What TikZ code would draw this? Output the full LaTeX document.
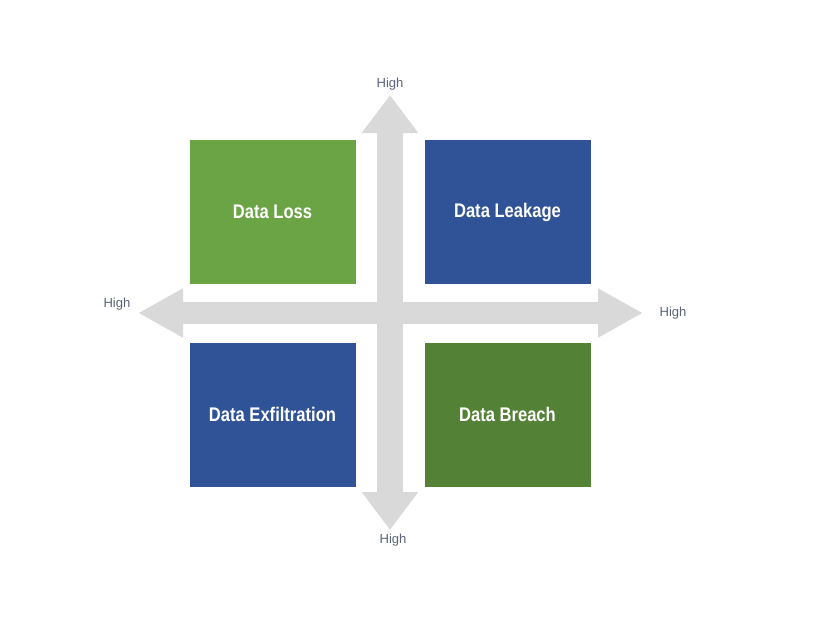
\documentclass[tikz,border=0pt]{standalone}
\usepackage{fontspec}
\setmainfont{Liberation Sans}
\newfontfamily\quadfont[FakeStretch=0.84]{Liberation Sans}
\usepackage{tikz}
\usetikzlibrary{arrows.meta}
\definecolor{axisgray}{HTML}{D9D9D9}
\definecolor{lossgreen}{HTML}{6AA444}
\definecolor{breachgreen}{HTML}{538135}
\definecolor{leakblue}{HTML}{2F5396}
\definecolor{highgray}{HTML}{5B6479}
\tikzset{
	quad/.style={rectangle, minimum width=124.5pt, minimum height=108pt, inner sep=0pt, text=white, font=\quadfont\bfseries\fontsize{14.8}{18}\selectfont},
	highlbl/.style={text=highgray, inner sep=0pt, font=\fontsize{9.8}{11}\selectfont},
	vaxis/.style={draw=axisgray, fill=axisgray, line width=19.5pt, {Triangle[length=28.5pt,width=40.5pt]}-{Triangle[length=28.5pt,width=40.5pt]}},
	haxis/.style={draw=axisgray, fill=axisgray, line width=16.5pt, {Triangle[length=33.75pt,width=34.5pt]}-{Triangle[length=33.75pt,width=34.5pt]}}
}

\begin{document}
\begin{tikzpicture}[x=0.75pt, y=-0.75pt]
			{\useasboundingbox (0,0) rectangle (818,636);}
			% axis ends
			{\coordinate (ytop) at (390,95);}
			{\coordinate (ybot) at (390,530);}
			{\coordinate (xleft) at (138,313);}
			{\coordinate (xright) at (643,313);}
			{\draw[haxis] (xleft) -- (xright);}
			{\draw[vaxis] (ytop) -- (ybot);}
			% quadrants
			{\node[quad, fill=lossgreen] (loss) at (272.5,212) {Data Loss};}
			{\node[quad, fill=leakblue] (leak) at (507.5,212) {Data Leakage};}
			{\node[quad, fill=leakblue] (exfil) at (272.5,414.5) {Data Exfiltration};}
			{\node[quad, fill=breachgreen] (breach) at (507.5,414.5) {Data Breach};}
			% labels
			{\node[highlbl] (hightop) at (390,84) {High};}
			{\node[highlbl] (highleft) at (117,304) {High};}
			{\node[highlbl] (highright) at (673,313) {High};}
			{\node[highlbl] (highbot) at (393,540) {High};}
		\end{tikzpicture}
\end{document}
